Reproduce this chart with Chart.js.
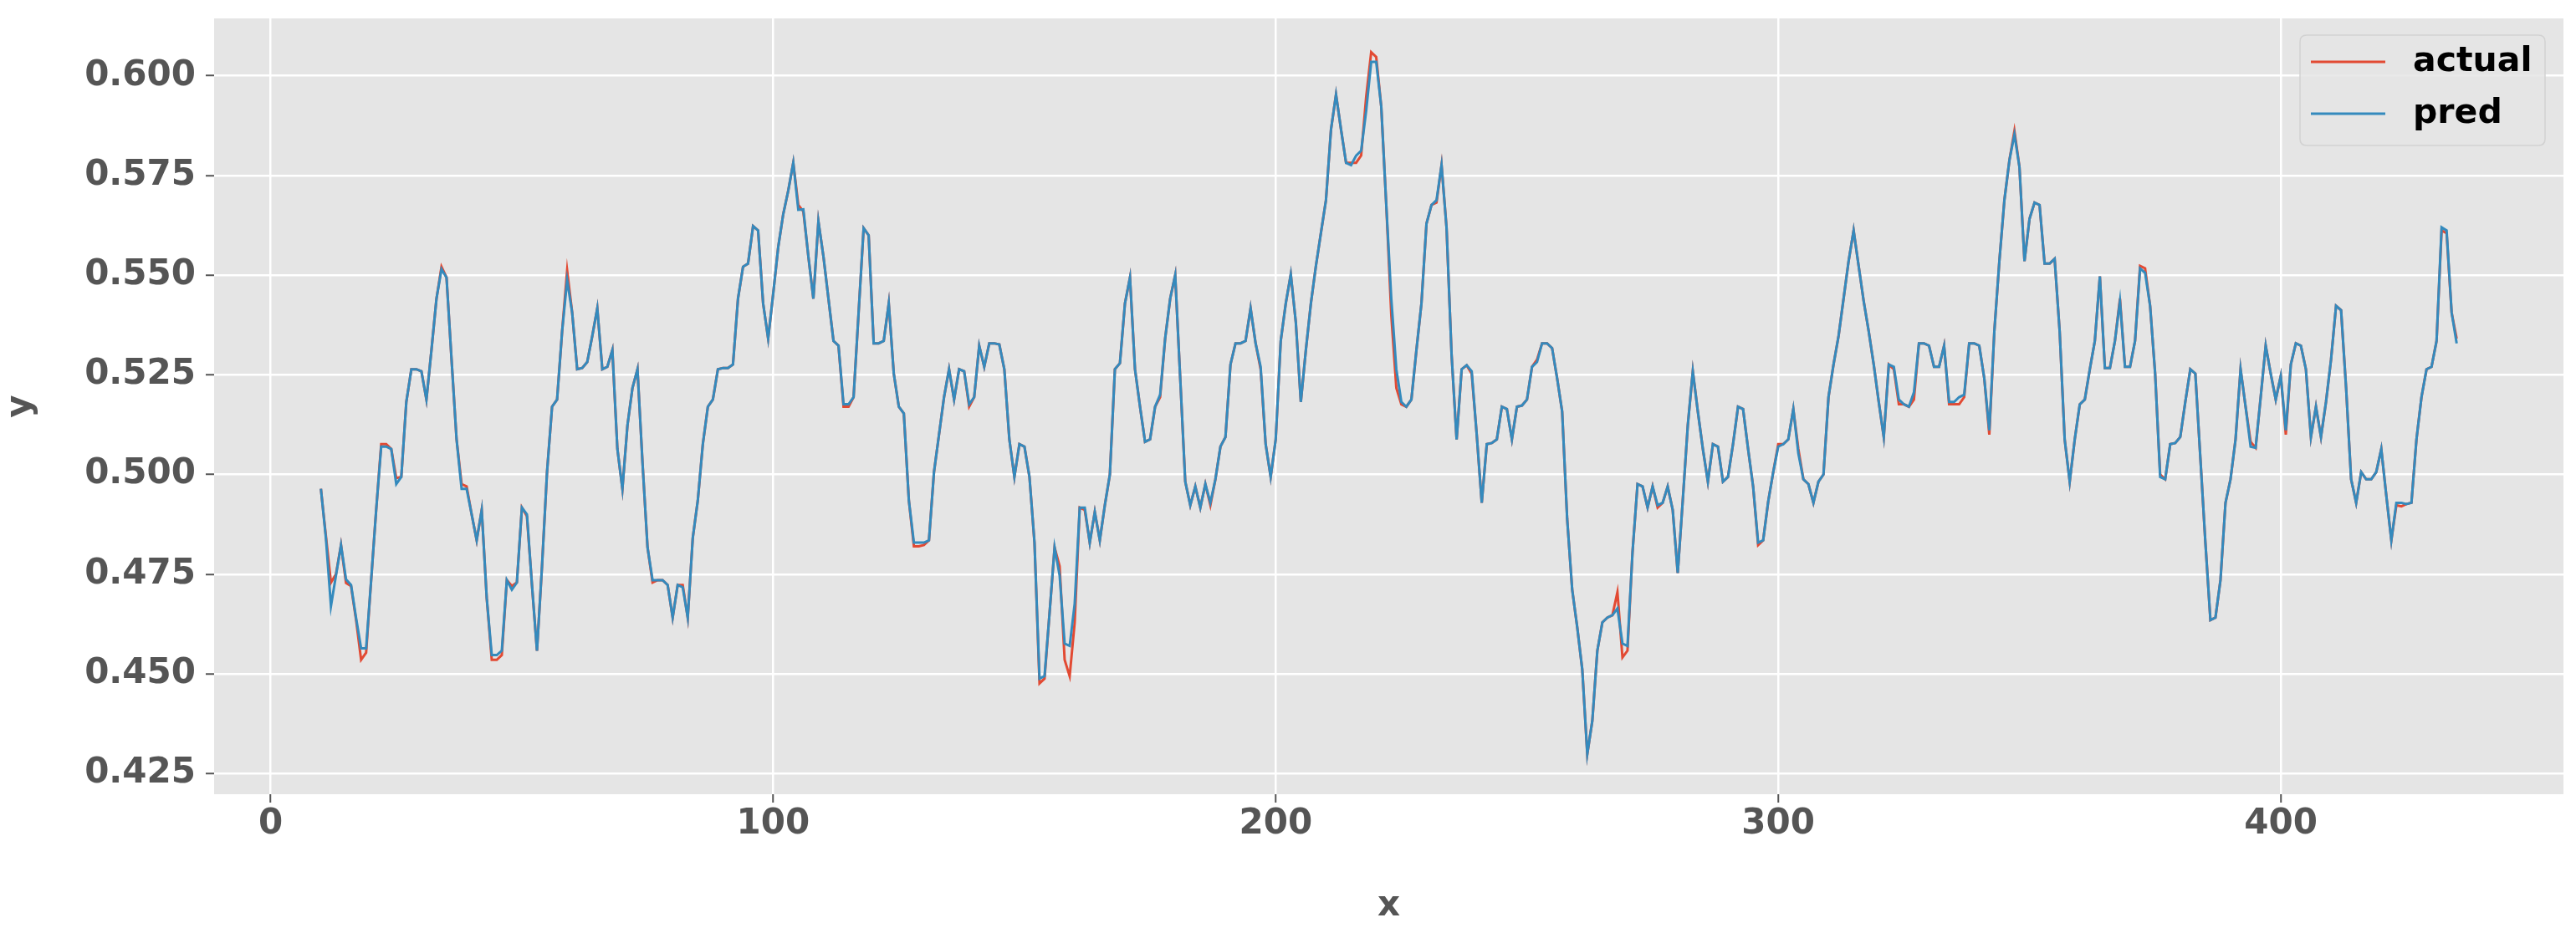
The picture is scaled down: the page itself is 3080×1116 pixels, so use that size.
<!DOCTYPE html>
<html>
<head>
<meta charset="utf-8">
<script src="https://cdn.jsdelivr.net/npm/chart.js@4.4.1/dist/chart.umd.min.js"></script>
<style>
  html, body { margin: 0; padding: 0; background: #ffffff; }
  #c { display: block; }
</style>
</head>
<body>
<canvas id="c" width="3080" height="1116"></canvas>
<script>
// ---- data (x runs from xStart, one point per integer step) ----
const xStart = 10;

const actual = [
  0.4964,0.4845,0.4729,0.4750,0.4823,0.4728,0.4720,0.4635,0.4535,0.4553, // 10-19
  0.4735,0.4911,0.5076,0.5076,0.5064,0.4991,0.4994,0.5182,0.5264,0.5264, // 20-29
  0.5259,0.5188,0.5312,0.5441,0.5521,0.5494,0.5288,0.5088,0.4976,0.4970, // 30-39
  0.4900,0.4835,0.4911,0.4690,0.4535,0.4535,0.4547,0.4735,0.4720,0.4729, // 40-49
  0.4917,0.4895,0.4723,0.4558,0.4770,0.5006,0.5170,0.5188,0.5359,0.5512, // 50-59
  0.5406,0.5264,0.5267,0.5282,0.5347,0.5417,0.5264,0.5270,0.5312,0.5064, // 60-69
  0.4964,0.5123,0.5217,0.5264,0.5029,0.4817,0.4729,0.4735,0.4735,0.4723, // 70-79
  0.4641,0.4723,0.4723,0.4641,0.4841,0.4935,0.5076,0.5170,0.5188,0.5264, // 80-89
  0.5267,0.5267,0.5276,0.5441,0.5521,0.5529,0.5623,0.5612,0.5429,0.5341, // 90-99
  0.5453,0.5570,0.5653,0.5712,0.5782,0.5676,0.5660,0.5547,0.5441,0.5635, // 100-109
  0.5547,0.5441,0.5335,0.5323,0.5170,0.5170,0.5194,0.5406,0.5618,0.5600, // 110-119
  0.5329,0.5329,0.5335,0.5429,0.5253,0.5170,0.5153,0.4935,0.4820,0.4820, // 120-129
  0.4823,0.4835,0.5006,0.5100,0.5194,0.5264,0.5188,0.5264,0.5259,0.5170, // 130-139
  0.5194,0.5323,0.5270,0.5329,0.5329,0.5326,0.5264,0.5088,0.4994,0.5076, // 140-149
  0.5070,0.4994,0.4829,0.4476,0.4488,0.4653,0.4817,0.4770,0.4535,0.4494, // 150-159
  0.4629,0.4917,0.4911,0.4829,0.4906,0.4835,0.4923,0.5000,0.5264,0.5279, // 160-169
  0.5429,0.5494,0.5264,0.5170,0.5082,0.5088,0.5170,0.5194,0.5341,0.5441, // 170-179
  0.5500,0.5241,0.4982,0.4923,0.4970,0.4917,0.4976,0.4923,0.4988,0.5070, // 180-189
  0.5094,0.5276,0.5329,0.5329,0.5335,0.5417,0.5329,0.5264,0.5076,0.4994, // 190-199
  0.5088,0.5335,0.5429,0.5502,0.5382,0.5182,0.5312,0.5429,0.5523,0.5606, // 200-209
  0.5688,0.5865,0.5953,0.5865,0.5782,0.5782,0.5782,0.5800,0.5947,0.6059, // 210-219
  0.6047,0.5923,0.5676,0.5400,0.5217,0.5176,0.5170,0.5188,0.5312,0.5429, // 220-229
  0.5629,0.5676,0.5682,0.5776,0.5618,0.5300,0.5088,0.5264,0.5274,0.5253, // 230-239
  0.5100,0.4929,0.5076,0.5079,0.5088,0.5170,0.5164,0.5088,0.5170,0.5173, // 240-249
  0.5188,0.5270,0.5288,0.5329,0.5329,0.5317,0.5241,0.5158,0.4888,0.4711, // 250-259
  0.4617,0.4511,0.4299,0.4382,0.4558,0.4629,0.4641,0.4647,0.4705,0.4541, // 260-269
  0.4558,0.4805,0.4976,0.4970,0.4917,0.4970,0.4917,0.4929,0.4970,0.4911, // 270-279
  0.4753,0.4935,0.5123,0.5259,0.5158,0.5064,0.4982,0.5076,0.5070,0.4982, // 280-289
  0.4994,0.5076,0.5170,0.5164,0.5064,0.4970,0.4823,0.4835,0.4932,0.5006, // 290-299
  0.5076,0.5076,0.5088,0.5164,0.5064,0.4988,0.4976,0.4929,0.4982,0.5000, // 300-309
  0.5194,0.5276,0.5347,0.5441,0.5535,0.5612,0.5523,0.5435,0.5359,0.5276, // 310-319
  0.5182,0.5094,0.5276,0.5264,0.5176,0.5176,0.5170,0.5188,0.5329,0.5329, // 320-329
  0.5323,0.5270,0.5270,0.5323,0.5176,0.5176,0.5176,0.5194,0.5329,0.5329, // 330-339
  0.5323,0.5241,0.5100,0.5359,0.5535,0.5688,0.5788,0.5862,0.5771,0.5535, // 340-349
  0.5641,0.5682,0.5676,0.5529,0.5529,0.5541,0.5359,0.5088,0.4982,0.5088, // 350-359
  0.5176,0.5188,0.5264,0.5335,0.5497,0.5267,0.5267,0.5335,0.5441,0.5270, // 360-369
  0.5270,0.5335,0.5523,0.5517,0.5423,0.5253,0.5000,0.4988,0.5076,0.5079, // 370-379
  0.5094,0.5182,0.5264,0.5253,0.5041,0.4829,0.4635,0.4641,0.4735,0.4929, // 380-389
  0.4988,0.5088,0.5264,0.5170,0.5082,0.5067,0.5194,0.5323,0.5253,0.5188, // 390-399
  0.5247,0.5100,0.5276,0.5329,0.5323,0.5264,0.5094,0.5170,0.5094,0.5182, // 400-409
  0.5288,0.5423,0.5412,0.5217,0.4988,0.4929,0.5006,0.4988,0.4988,0.5006, // 410-419
  0.5064,0.4947,0.4835,0.4923,0.4920,0.4926,0.4929,0.5088,0.5194,0.5264, // 420-429
  0.5270,0.5335,0.5612,0.5605,0.5406,0.5341                              // 430-435
];

const pred = [
  0.4964,0.4840,0.4670,0.4747,0.4823,0.4737,0.4723,0.4640,0.4564,0.4564, // 10-19
  0.4735,0.4911,0.5070,0.5070,0.5064,0.4976,0.4994,0.5182,0.5264,0.5264, // 20-29
  0.5259,0.5188,0.5312,0.5441,0.5515,0.5494,0.5288,0.5088,0.4964,0.4964, // 30-39
  0.4900,0.4835,0.4911,0.4690,0.4547,0.4547,0.4558,0.4735,0.4711,0.4729, // 40-49
  0.4917,0.4900,0.4723,0.4558,0.4770,0.5006,0.5170,0.5188,0.5359,0.5488, // 50-59
  0.5406,0.5264,0.5267,0.5282,0.5347,0.5417,0.5264,0.5270,0.5312,0.5064, // 60-69
  0.4964,0.5123,0.5217,0.5264,0.5029,0.4817,0.4735,0.4735,0.4735,0.4723, // 70-79
  0.4641,0.4723,0.4717,0.4641,0.4841,0.4935,0.5076,0.5170,0.5188,0.5264, // 80-89
  0.5267,0.5267,0.5276,0.5441,0.5521,0.5529,0.5623,0.5612,0.5429,0.5341, // 90-99
  0.5453,0.5570,0.5653,0.5712,0.5782,0.5664,0.5665,0.5547,0.5441,0.5635, // 100-109
  0.5547,0.5441,0.5335,0.5323,0.5176,0.5176,0.5194,0.5406,0.5618,0.5600, // 110-119
  0.5329,0.5329,0.5335,0.5429,0.5253,0.5170,0.5153,0.4935,0.4829,0.4829, // 120-129
  0.4829,0.4835,0.5006,0.5100,0.5194,0.5264,0.5188,0.5264,0.5259,0.5176, // 130-139
  0.5194,0.5323,0.5270,0.5329,0.5329,0.5326,0.5264,0.5088,0.4994,0.5076, // 140-149
  0.5070,0.4994,0.4829,0.4488,0.4494,0.4653,0.4817,0.4747,0.4576,0.4570, // 150-159
  0.4676,0.4917,0.4917,0.4829,0.4906,0.4835,0.4923,0.5000,0.5264,0.5279, // 160-169
  0.5429,0.5494,0.5264,0.5170,0.5082,0.5088,0.5170,0.5200,0.5341,0.5441, // 170-179
  0.5500,0.5241,0.4982,0.4923,0.4970,0.4917,0.4976,0.4929,0.4988,0.5070, // 180-189
  0.5094,0.5276,0.5329,0.5329,0.5335,0.5417,0.5329,0.5270,0.5076,0.4994, // 190-199
  0.5088,0.5335,0.5429,0.5502,0.5382,0.5182,0.5312,0.5429,0.5523,0.5606, // 200-209
  0.5688,0.5865,0.5953,0.5865,0.5782,0.5776,0.5800,0.5812,0.5912,0.6035, // 210-219
  0.6035,0.5923,0.5676,0.5441,0.5264,0.5182,0.5170,0.5188,0.5312,0.5429, // 220-229
  0.5629,0.5676,0.5688,0.5776,0.5618,0.5300,0.5088,0.5264,0.5274,0.5259, // 230-239
  0.5100,0.4929,0.5076,0.5079,0.5088,0.5170,0.5164,0.5088,0.5170,0.5173, // 240-249
  0.5188,0.5270,0.5282,0.5329,0.5329,0.5317,0.5241,0.5158,0.4888,0.4711, // 250-259
  0.4617,0.4511,0.4299,0.4382,0.4558,0.4629,0.4641,0.4647,0.4664,0.4576, // 260-269
  0.4570,0.4805,0.4976,0.4970,0.4917,0.4970,0.4923,0.4929,0.4970,0.4911, // 270-279
  0.4753,0.4935,0.5123,0.5259,0.5158,0.5064,0.4982,0.5076,0.5070,0.4982, // 280-289
  0.4994,0.5076,0.5170,0.5164,0.5064,0.4970,0.4829,0.4835,0.4932,0.5006, // 290-299
  0.5070,0.5076,0.5088,0.5164,0.5053,0.4988,0.4976,0.4929,0.4982,0.5000, // 300-309
  0.5194,0.5276,0.5347,0.5441,0.5535,0.5612,0.5523,0.5435,0.5359,0.5276, // 310-319
  0.5182,0.5094,0.5276,0.5270,0.5188,0.5176,0.5170,0.5206,0.5329,0.5329, // 320-329
  0.5323,0.5270,0.5270,0.5323,0.5182,0.5182,0.5194,0.5200,0.5329,0.5329, // 330-339
  0.5323,0.5241,0.5111,0.5359,0.5535,0.5688,0.5788,0.5853,0.5771,0.5535, // 340-349
  0.5641,0.5682,0.5676,0.5529,0.5529,0.5541,0.5359,0.5088,0.4982,0.5088, // 350-359
  0.5176,0.5188,0.5264,0.5335,0.5497,0.5267,0.5267,0.5335,0.5435,0.5270, // 360-369
  0.5270,0.5335,0.5517,0.5506,0.5423,0.5253,0.4994,0.4988,0.5076,0.5079, // 370-379
  0.5094,0.5182,0.5264,0.5253,0.5041,0.4829,0.4635,0.4641,0.4735,0.4929, // 380-389
  0.4988,0.5088,0.5264,0.5170,0.5070,0.5067,0.5194,0.5323,0.5253,0.5188, // 390-399
  0.5247,0.5111,0.5276,0.5329,0.5323,0.5264,0.5094,0.5170,0.5094,0.5182, // 400-409
  0.5288,0.5423,0.5412,0.5217,0.4988,0.4929,0.5006,0.4988,0.4988,0.5006, // 410-419
  0.5064,0.4947,0.4835,0.4929,0.4929,0.4926,0.4929,0.5088,0.5194,0.5264, // 420-429
  0.5270,0.5335,0.5620,0.5612,0.5406,0.5329                              // 430-435
];

const seriesLabels = ['actual', 'pred'];
const seriesColors = ['#E24A33', '#348ABD'];
const xTickValues = [0, 100, 200, 300, 400];
const yTickValues = [0.425, 0.450, 0.475, 0.500, 0.525, 0.550, 0.575, 0.600];
const xRange = [-11.25, 456.25];
const yRange = [0.4198, 0.6144];
const xTitle = 'x';
const yTitle = 'y';

// ---- build points ----
const xs = actual.map((_, i) => xStart + i);
const toPoints = arr => arr.map((v, i) => ({ x: xs[i], y: v }));

const FONT = 'DejaVu Sans';
const tickFont = { family: FONT, size: 42, weight: 'bold', lineHeight: 1 };
const titleFont = { family: FONT, size: 42, weight: 'bold', lineHeight: 1.2 };
const GREY = '#555555';

const bgPlugin = {
  id: 'plotBg',
  beforeDraw(chart) {
    const { ctx, chartArea: a } = chart;
    ctx.save();
    ctx.fillStyle = '#E5E5E5';
    ctx.fillRect(a.left, a.top, a.right - a.left, a.bottom - a.top);
    ctx.restore();
  }
};

const legendPlugin = {
  id: 'mplLegend',
  afterDraw(chart) {
    const { ctx, chartArea: a } = chart;
    const w = 293, h = 132;
    const bx = a.right - 22 - w, by = a.top + 20;
    const r = 8;
    ctx.save();
    ctx.beginPath();
    ctx.moveTo(bx + r, by);
    ctx.lineTo(bx + w - r, by);
    ctx.quadraticCurveTo(bx + w, by, bx + w, by + r);
    ctx.lineTo(bx + w, by + h - r);
    ctx.quadraticCurveTo(bx + w, by + h, bx + w - r, by + h);
    ctx.lineTo(bx + r, by + h);
    ctx.quadraticCurveTo(bx, by + h, bx, by + h - r);
    ctx.lineTo(bx, by + r);
    ctx.quadraticCurveTo(bx, by, bx + r, by);
    ctx.closePath();
    ctx.fillStyle = 'rgba(229,229,229,0.85)';
    ctx.fill();
    ctx.lineWidth = 1.5;
    ctx.strokeStyle = '#D2D2D2';
    ctx.stroke();
    chart.data.datasets.forEach((ds, i) => {
      const y = by + 32 + i * 62;
      ctx.beginPath();
      ctx.moveTo(bx + 13, y);
      ctx.lineTo(bx + 102, y);
      ctx.strokeStyle = ds.borderColor;
      ctx.lineWidth = 3;
      ctx.stroke();
      ctx.fillStyle = '#000000';
      ctx.font = 'bold 41px "' + FONT + '"';
      ctx.textAlign = 'left';
      ctx.textBaseline = 'middle';
      ctx.fillText(ds.label, bx + 135, y);
    });
    ctx.restore();
  }
};

new Chart(document.getElementById('c'), {
  type: 'line',
  data: {
    datasets: [
      { label: seriesLabels[0], data: toPoints(actual), borderColor: seriesColors[0],
        borderWidth: 3, pointRadius: 0, tension: 0, fill: false, order: 2 },
      { label: seriesLabels[1], data: toPoints(pred), borderColor: seriesColors[1],
        borderWidth: 3, pointRadius: 0, tension: 0, fill: false, order: 1 }
    ]
  },
  options: {
    responsive: false,
    animation: false,
    devicePixelRatio: 1,
    layout: { padding: { top: 22, right: 15, left: 0, bottom: 0 } },
    plugins: { legend: { display: false }, tooltip: { enabled: false } },
    scales: {
      x: {
        type: 'linear',
        min: xRange[0], max: xRange[1],
        afterBuildTicks: s => { s.ticks = xTickValues.map(v => ({ value: v })); },
        afterFit: s => { s.height = 166; s.paddingLeft = 0; s.paddingRight = 0; },
        border: { display: false },
        grid: { color: '#FFFFFF', lineWidth: 2.5, tickColor: GREY, tickLength: 10, tickWidth: 2 },
        ticks: { font: tickFont, color: GREY, padding: 5, maxRotation: 0, autoSkip: false,
                 callback: v => String(v) },
        title: { display: true, text: xTitle, font: titleFont, color: GREY,
                 padding: { top: 0, bottom: 7 } }
      },
      y: {
        type: 'linear',
        min: yRange[0], max: yRange[1],
        afterBuildTicks: s => { s.ticks = yTickValues.map(v => ({ value: v })); },
        afterFit: s => { s.width = 256; s.paddingTop = 0; s.paddingBottom = 0; },
        border: { display: false },
        grid: { color: '#FFFFFF', lineWidth: 2.5, tickColor: GREY, tickLength: 10, tickWidth: 2 },
        ticks: { font: tickFont, color: GREY, padding: 12, autoSkip: false,
                 callback: v => Number(v).toFixed(3) },
        title: { display: true, text: yTitle, font: titleFont, color: GREY,
                 padding: { top: 0, bottom: 0 } }
      }
    }
  },
  plugins: [bgPlugin, legendPlugin]
});
</script>
</body>
</html>
